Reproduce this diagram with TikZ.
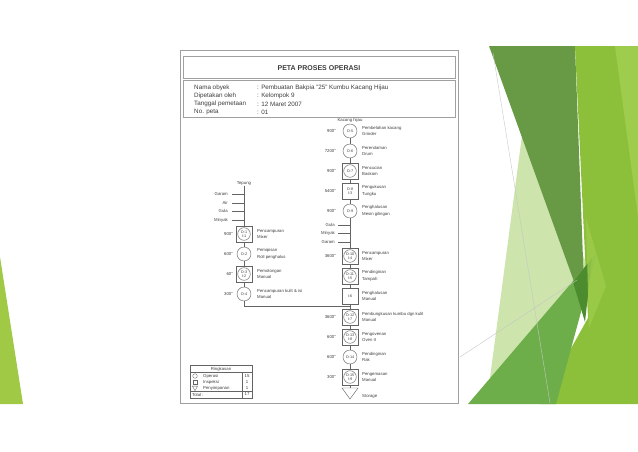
\documentclass[tikz,border=0pt]{standalone}
\usepackage{fontspec}
\setmainfont{Liberation Sans}
\usetikzlibrary{shapes.geometric}
\definecolor{lime}{RGB}{141,192,58}
\definecolor{limelight}{RGB}{158,204,76}
\definecolor{darkg}{RGB}{104,154,69}
\definecolor{medg}{RGB}{109,174,74}
\definecolor{deepg}{RGB}{77,140,46}
\definecolor{paleg}{RGB}{205,228,172}
\definecolor{leftg}{RGB}{160,201,70}
\definecolor{frameg}{RGB}{160,160,160}
\definecolor{ink}{RGB}{60,60,60}
\definecolor{lnc}{RGB}{100,100,100}
\newcommand\fsTitle{\fontsize{7}{8}\selectfont\bfseries}
\newcommand\fsInfo{\fontsize{6.3}{7.5}\selectfont}
\newcommand\fsLab{\fontsize{4.3}{6.5}\selectfont}
\newcommand\fsSym{\fontsize{3.8}{4.3}\selectfont}
\begin{document}
\begin{tikzpicture}[x=1pt,y=-1pt,
  ln/.style={draw=lnc, line width=0.45pt},
  opc/.style={circle, draw=lnc, line width=0.45pt, minimum size=14pt, inner sep=0pt, font=\fsSym, text=ink},
  opbox/.style={rectangle, draw=lnc, line width=0.45pt, minimum size=16pt, inner sep=0pt, font=\fsSym, text=ink, align=center,
     path picture={\draw[lnc, line width=0.45pt] (path picture bounding box.center) circle (6.3pt);}},
  insp/.style={rectangle, draw=lnc, line width=0.45pt, minimum size=16pt, inner sep=0pt, font=\fsSym, text=ink, align=center},
  lab/.style={font=\fsLab, text=ink, inner sep=0.5pt},
  desc/.style={font=\fsLab, text=ink, inner sep=0pt, anchor=west, align=left},
  tim/.style={font=\fsLab, text=ink, inner sep=0pt, anchor=east},
  inl/.style={font=\fsLab, text=ink, inner sep=0pt, anchor=east},
  info/.style={font=\fsInfo, text=ink, inner sep=0pt, anchor=west},
  tab/.style={font=\fsLab, text=ink, inner sep=0pt},
]
\useasboundingbox (0,0) rectangle (638,451);
% ---------- slide decoration ----------
\fill[leftg] (0,257) -- (23,404) -- (0,404) -- cycle;
\fill[paleg] (523,128) -- (490,378) -- (600,292) -- cycle;
\fill[darkg] (489,46) -- (575,46) -- (585,312) -- cycle;
\fill[lime] (575,46) -- (638,46) -- (638,404) -- (540,404) -- (588,318) -- cycle;
\fill[limelight] (615,46) -- (638,46) -- (638,217) -- cycle;
\fill[medg] (468,404) -- (556,404) -- (597,253) -- cycle;
\fill[deepg] (573,282) -- (592,258) -- (585,322) -- cycle;
\fill[limelight, opacity=0.8] (586,218) -- (606,286) -- (589,328) -- cycle;
\draw[black!22, line width=0.4pt] (493,53) -- (550,403);
\draw[black!22, line width=0.4pt] (460,357) -- (577,280);
% ---------- frame ----------
\draw[frameg, line width=1pt] (180,50) rectangle (458,403);
\draw[frameg, line width=0.6pt] (183,56) rectangle (455,78);
\draw[frameg, line width=0.6pt] (183,80) rectangle (455,117);
\node[font=\fsTitle, text=ink] (title) at (319,68.5) {PETA PROSES OPERASI};
\node[info] (k1) at (194,88) {Nama obyek};
\node[info] (k2) at (194,96) {Dipetakan oleh};
\node[info] (k3) at (194,104) {Tanggal pemetaan};
\node[info] (k4) at (194,112) {No. peta};
\node[info] (v1) at (257,88) {: Pembuatan Bakpia "25" Kumbu Kacang Hijau};
\node[info] (v2) at (257,96) {: Kelompok 9};
\node[info] (v3) at (257,104) {: 12 Maret 2007};
\node[info] (v4) at (257,112) {: 01};
% ---------- right column ----------
\node[lab] (kh) at (350,120) {Kacang hijau};
\node[opc] (o5) at (350,131) {O-5};
\node[opc] (o6) at (350,151) {O-6};
\node[opbox] (o7) at (350,171) {O-7};
\node[insp] (o8) at (350,191) {O-8\\I-3};
\node[opc] (o9) at (350,211) {O-9};
\node[opbox] (o10) at (350,256) {O-10\\I-4};
\node[opbox] (o11) at (350,276) {O-11\\I-5};
\node[insp] (i6) at (350,296) {I-6};
\coordinate (rj) at (350,306);
\node[opbox] (o12) at (350,317) {O-12\\I-7};
\node[opbox] (o13) at (350,337) {O-13\\I-8};
\node[opc] (o14) at (350,357) {O-14};
\node[opbox] (o15) at (350,377) {O-15\\I-9};
\coordinate (st) at (350,388);
\draw[ln] (342,388) -- (358,388) -- (350,399) -- cycle;
\node[desc] (sttxt) at (362,396) {Storage};
% times right
\node[tim] (t5) at (336,131) {900"};
\node[tim] (t6) at (336,151) {7200"};
\node[tim] (t7) at (336,171) {900"};
\node[tim] (t8) at (336,191) {5400"};
\node[tim] (t9) at (336,211) {900"};
\node[tim] (t10) at (336,256) {3600"};
\node[tim] (t12) at (336,317) {3600"};
\node[tim] (t13) at (336,337) {600"};
\node[tim] (t14) at (336,357) {600"};
\node[tim] (t15) at (336,377) {300"};
% descriptions right
\node[desc] (d5) at (362,131) {Pembelahan kacang\\Grinder};
\node[desc] (d6) at (362,151) {Perendaman\\Drum};
\node[desc] (d7) at (362,171) {Pencucian\\Baskom};
\node[desc] (d8) at (362,191) {Pengukusan\\Tungku};
\node[desc] (d9) at (362,211) {Penghalusan\\Mesin gilingan};
\node[desc] (d10) at (362,256) {Pencampuran\\Mixer};
\node[desc] (d11) at (362,276) {Pendinginan\\Tampah};
\node[desc] (d16) at (362,296) {Penghalusan\\Manual};
\node[desc] (d12) at (362,317) {Pembungkusan kumbu dgn kulit\\Manual};
\node[desc] (d13) at (362,337) {Pengovenan\\Oven II};
\node[desc] (d14) at (362,357) {Pendinginan\\Rak};
\node[desc] (d15) at (362,377) {Pengemasan\\Manual};
% inputs right
\node[inl] (rgula) at (335,225) {Gula};
\node[inl] (rmin) at (335,233) {Minyak};
\node[inl] (rgar) at (335,242) {Garam};
\coordinate (rgulaT) at (350,225);
\coordinate (rminT) at (350,233);
\coordinate (rgarT) at (350,242);
\draw[ln, shorten <=3pt] (rgula.east) -- (rgulaT);
\draw[ln, shorten <=3pt] (rmin.east) -- (rminT);
\draw[ln, shorten <=3pt] (rgar.east) -- (rgarT);
\draw[ln] (o5) -- (o6) -- (o7) -- (o8) -- (o9) -- (o10) -- (o11) -- (i6) -- (o12) -- (o13) -- (o14) -- (o15) -- (st);
% ---------- left column ----------
\node[lab] (tp) at (244,183) {Tepung};
\node[opbox] (o1) at (244,234) {O-1\\I-1};
\node[opc] (o2) at (244,254) {O-2};
\node[opbox] (o3) at (244,274) {O-3\\I-2};
\node[opc] (o4) at (244,294) {O-4};
\coordinate (lj) at (244,306);
\node[tim] (t1) at (233,234) {900"};
\node[tim] (t2) at (233,254) {600"};
\node[tim] (t3) at (233,274) {60"};
\node[tim] (t4) at (233,294) {300"};
\node[desc] (d1) at (257,234) {Pencampuran\\Mixer};
\node[desc] (d2) at (257,254) {Pemipisan\\Roll penghalus};
\node[desc] (d3) at (257,274) {Pemotongan\\Manual};
\node[desc] (d4) at (257,294) {Pencampuran kulit \& isi\\Manual};
\node[inl] (lgar) at (228,194) {Garam};
\node[inl] (lair) at (228,203) {Air};
\node[inl] (lgula) at (228,211) {Gula};
\node[inl] (lmin) at (228,220) {Minyak};
\coordinate (lgarT) at (244,194);
\coordinate (lairT) at (244,203);
\coordinate (lgulaT) at (244,211);
\coordinate (lminT) at (244,220);
\draw[ln, shorten <=4pt] (lgar.east) -- (lgarT);
\draw[ln, shorten <=4pt] (lair.east) -- (lairT);
\draw[ln, shorten <=4pt] (lgula.east) -- (lgulaT);
\draw[ln, shorten <=4pt] (lmin.east) -- (lminT);
\draw[ln] (tp) -- (o1) -- (o2) -- (o3) -- (o4) -- (lj) -- (rj);
% ---------- Ringkasan ----------
\draw[ln] (190,365) rectangle (252,398);
\draw[ln] (190,372.5) -- (252,372.5);
\draw[ln] (190,391) -- (252,391);
\draw[ln] (242,372.5) -- (242,398);
\node[tab] (rtitle) at (221,369) {Ringkasan};
\node[circle, draw=lnc, line width=0.35pt, minimum size=4.6pt, inner sep=0pt] (sc) at (195,376) {};
\node[rectangle, draw=lnc, line width=0.35pt, minimum size=4.6pt, inner sep=0pt, fill=white] (ss) at (195,382) {};
\node[regular polygon, regular polygon sides=3, shape border rotate=180, draw=lnc, line width=0.35pt, minimum size=6pt, inner sep=0pt] (sv) at (195,387.6) {};
\node[tab, anchor=west] (r1) at (203,376) {Operasi};
\node[tab, anchor=west] (r2) at (203,382) {Inspeksi};
\node[tab, anchor=west] (r3) at (203,388) {Penyimpanan};
\node[tab, anchor=west] (r4) at (192,394.5) {Total :};
\node[tab] (n1) at (247,376) {15};
\node[tab] (n2) at (247,382) {1};
\node[tab] (n3) at (247,388) {1};
\node[tab] (n4) at (247,394.5) {17};
\end{tikzpicture}
\end{document}
